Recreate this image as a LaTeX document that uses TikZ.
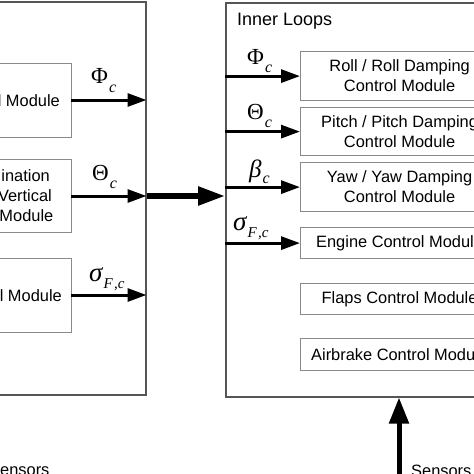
\documentclass[tikz,border=0pt]{standalone}
\usepackage{fontspec}
\setmainfont{Liberation Sans}
\newfontfamily\tmsfont{Liberation Serif}
\usetikzlibrary{arrows.meta}
\definecolor{boxgray}{HTML}{8A8A8A}
\definecolor{outergray}{HTML}{555555}
% main symbol, subscript, main size, sub size, drop
\newcommand\lblx[5]{{\fontsize{#3}{#3}\selectfont\tmsfont #1}\kern1pt\raisebox{-#5pt}{\fontsize{#4}{#4}\selectfont\tmsfont\itshape #2}}
\begin{document}
\begin{tikzpicture}[x=1pt,y=-1pt,
  inbox/.style={draw=boxgray, line width=1.2pt, rectangle, inner sep=0pt, anchor=north west},
  outbox/.style={draw=outergray, line width=1.5pt, rectangle, inner sep=0pt, anchor=north west},
  txt/.style={font=\fontsize{16.4}{20}\selectfont, align=center, inner sep=0pt},
  lab/.style={inner sep=0pt, anchor=base west},
  thinarr/.style={line width=3pt, -{Triangle[length=19pt,width=13pt]}},
  thickarr/.style={line width=5.5pt, -{Triangle[length=27pt,width=18pt]}}
]
\useasboundingbox (0,0) rectangle (474,474);
\clip (0,0) rectangle (474,474);

% outer boxes
\node[outbox, minimum width=165pt, minimum height=393pt] (LO) at (-20,1) {};
\node[outbox, minimum width=300pt, minimum height=394pt] (RO) at (225,2) {};
\node[txt, font=\fontsize{18}{22}\selectfont, anchor=base west] (inner) at (237,25) {Inner Loops};

% left inner boxes
\node[inbox, minimum width=131pt, minimum height=74pt] (L1) at (-60,63) {};
\node[inbox, minimum width=131pt, minimum height=73pt] (L2) at (-60,159) {};
\node[inbox, minimum width=131pt, minimum height=74pt] (L3) at (-60,258) {};

\node[txt, anchor=base east] (t1) at (60,106) {l Module};
\node[txt, anchor=base east] (t2a) at (50,181) {ination};
\node[txt, anchor=base east] (t2b) at (52,201) {Vertical};
\node[txt, anchor=base east] (t2c) at (53.5,221) {l Module};
\node[txt, anchor=base east] (t3) at (62,301) {l Module};

% right inner boxes
\node[inbox, minimum width=198pt, minimum height=49pt] (R1) at (300,51) {};
\node[inbox, minimum width=198pt, minimum height=48pt] (R2) at (300,107) {};
\node[inbox, minimum width=198pt, minimum height=49pt] (R3) at (300,162) {};
\node[inbox, minimum width=198pt, minimum height=31pt] (R4) at (300,227) {};
\node[inbox, minimum width=198pt, minimum height=31pt] (R5) at (300,283) {};
\node[inbox, minimum width=198pt, minimum height=32pt] (R6) at (300,338) {};

\node[txt] (r1) at (R1.center) {Roll / Roll Damping\\Control Module};
\node[txt] (r2) at (R2.center) {Pitch / Pitch Damping\\Control Module};
\node[txt] (r3) at (R3.center) {Yaw / Yaw Damping\\Control Module};
\node[txt] (r4) at (R4.center) {Engine Control Module};
\node[txt] (r5) at (R5.center) {Flaps Control Module};
\node[txt] (r6) at (R6.center) {Airbrake Control Module};

% left arrows
\coordinate (a1) at (71,100);
\coordinate (a2) at (71,196);
\coordinate (a3) at (71,295);
\draw[thinarr] (a1) -- (a1 -| LO.east);
\draw[thinarr] (a2) -- (a2 -| LO.east);
\draw[thinarr] (a3) -- (a3 -| LO.east);
\node[lab] (lp) at (91,83) {\lblx{Φ}{c}{23}{16}{9}};
\node[lab] (lt) at (92,180) {\lblx{Θ}{c}{23}{16}{8}};
\node[lab] (ls) at (89,281) {\lblx{\itshape σ}{F\kern1.5pt,c}{27}{15}{7}};

% thick arrow
\draw[thickarr] (a2 -| LO.east) -- (a2 -| RO.west);

% right arrows
\draw[thinarr] (R1.west -| RO.west) -- (R1.west);
\draw[thinarr] (R2.west -| RO.west) -- (R2.west);
\draw[thinarr] (R3.west -| RO.west) -- (R3.west);
\draw[thinarr] (R4.west -| RO.west) -- (R4.west);
\node[lab] (rp) at (247,64) {\lblx{Φ}{c}{23}{16}{8}};
\node[lab] (rt) at (247,119) {\lblx{Θ}{c}{23}{16}{8}};
\node[lab] (rb) at (249,177) {\lblx{\itshape β}{c}{25}{16}{6}};
\node[lab] (rs) at (233,230) {\lblx{\itshape σ}{F\kern1.5pt,c}{27}{15}{7}};

% sensors
\coordinate (sb) at (399,480);
\draw[line width=5pt, -{Triangle[length=26pt,width=19pt]}] (sb) -- (sb |- RO.south);
\node[txt, anchor=base west] (s1) at (411,476) {Sensors};
\node[txt, anchor=base west] (s2) at (0,475.5) {ensors};
\end{tikzpicture}
\end{document}
